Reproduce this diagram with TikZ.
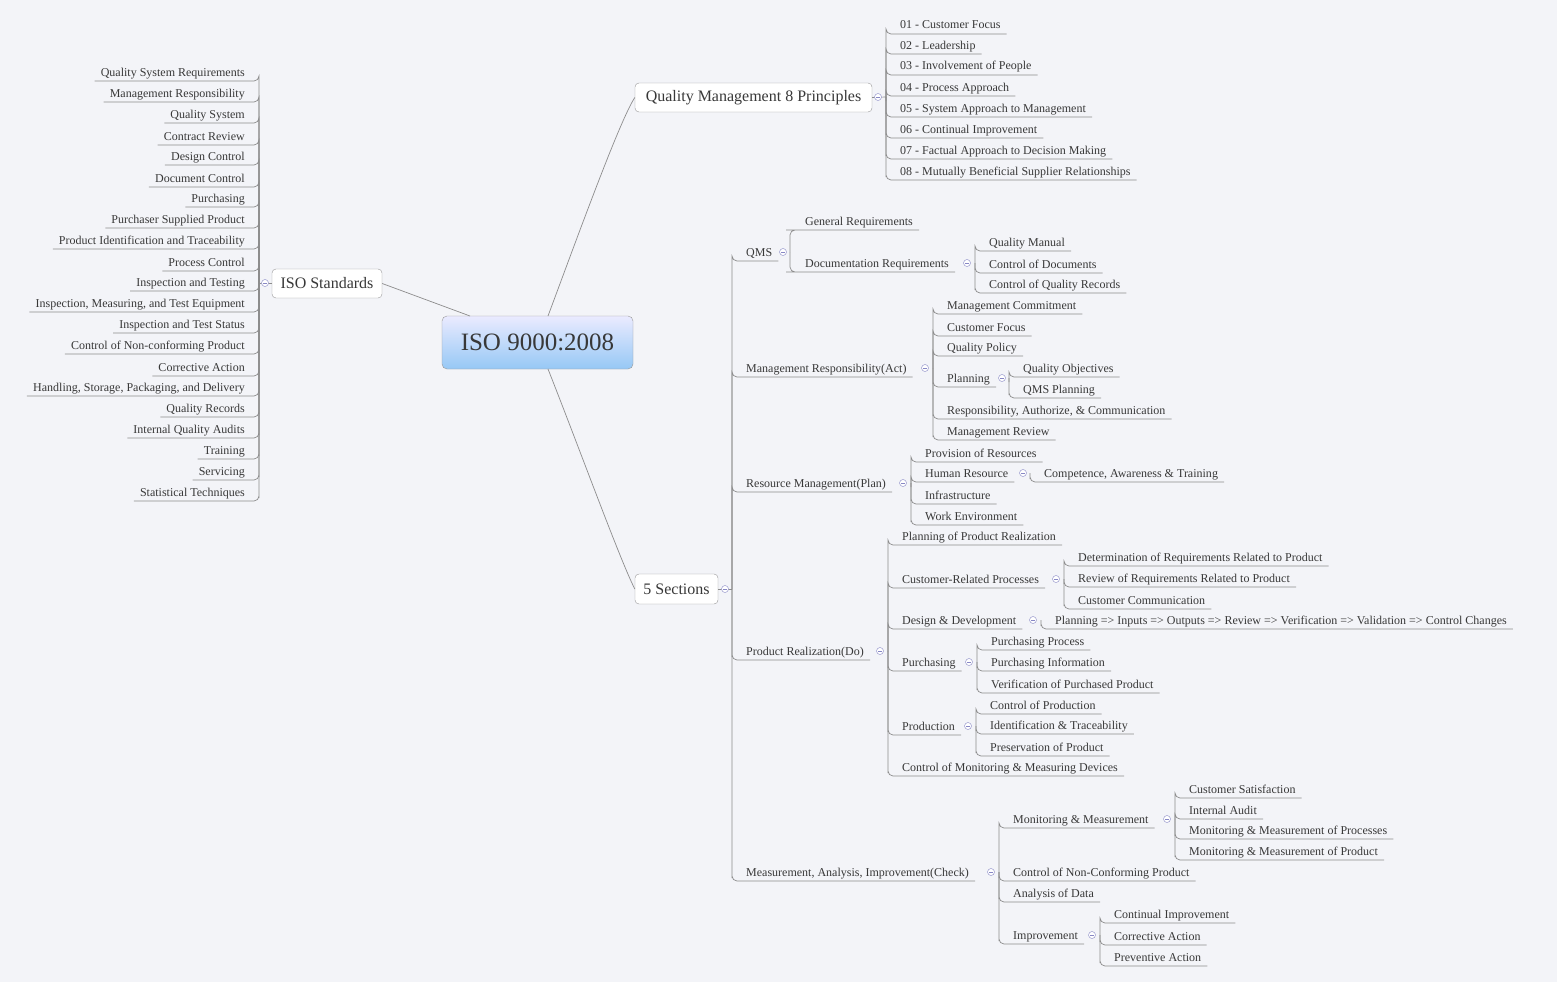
\documentclass[tikz,border=0pt]{standalone}
\usepackage{fontspec}
\setmainfont{Liberation Serif}
\begin{document}
\begin{tikzpicture}[x=1pt,y=1pt,
  leaf/.style={font=\fontsize{12}{12}\selectfont,text=black!78,inner sep=0pt,anchor=base west},
  leafl/.style={leaf,anchor=base east},
  ln/.style={draw=black!45,line width=0.7pt,rounded corners=5pt},
  tbox/.style={draw=black!40,fill=white,rounded corners=4pt,font=\fontsize{16}{16}\selectfont,text=black!78,inner sep=0pt},
  cc/.style={circle,draw=blue!35!gray!60,fill=white,minimum size=7pt,inner sep=0pt,line width=0.5pt,
     path picture={\draw[blue!35!gray!70,line width=0.5pt] ([xshift=-2pt]path picture bounding box.center)--([xshift=2pt]path picture bounding box.center);}}]
\useasboundingbox[fill={rgb,255:red,243;green,244;blue,248}] (0,0) rectangle (1557,-982);
\newcommand\R[5]{\node[leaf] (#2) at (#3,-#4-4) {#5};
  \draw[ln] (#1) |- ([xshift=-14pt,yshift=-5pt]#2.base west) -- ([xshift=6pt,yshift=-5pt]#2.base east);}
\newcommand\Lf[4]{\node[leafl] (#2) at (245,-#3-4) {#4};
  \draw[ln] (#1) |- ([xshift=14pt,yshift=-5pt]#2.base east) -- ([xshift=-6pt,yshift=-5pt]#2.base west);}
% center
\node[draw=black!40,rounded corners=5pt,top color=blue!8!white,bottom color={rgb,255:red,150;green,200;blue,245},
  minimum width=191pt,minimum height=53pt,font=\fontsize{25}{25}\selectfont,text=black!78] (c) at (537.5,-342.5) {ISO 9000:2008};
\node[tbox,minimum width=110pt,minimum height=29pt] (iso) at (327,-283.5) {ISO Standards};
\node[tbox,minimum width=237pt,minimum height=29pt] (qm) at (753.5,-97.5) {Quality Management 8 Principles};
\node[tbox,minimum width=83pt,minimum height=30pt] (fs) at (676.5,-589) {5 Sections};
\coordinate (c1) at (470,-316); \coordinate (c2) at (548,-316); \coordinate (c3) at (548,-369);
\draw[black!45,line width=0.7pt] (c1) -- (iso.east);
\draw[black!45,line width=0.7pt] (c2) .. controls (580,-230) and (620,-120) .. (qm.west);
\draw[black!45,line width=0.7pt] (c3) .. controls (580,-450) and (620,-560) .. (fs.west);
% left
\coordinate (pl) at (259,-283);
\Lf{pl}{l1}{72}{Quality System Requirements}
\Lf{pl}{l2}{93}{Management Responsibility}
\Lf{pl}{l3}{114}{Quality System}
\Lf{pl}{l4}{136}{Contract Review}
\Lf{pl}{l5}{156}{Design Control}
\Lf{pl}{l6}{178}{Document Control}
\Lf{pl}{l7}{198}{Purchasing}
\Lf{pl}{l8}{219}{Purchaser Supplied Product}
\Lf{pl}{l9}{240}{Product Identification and Traceability}
\Lf{pl}{l10}{262}{Process Control}
\Lf{pl}{l11}{282}{Inspection and Testing}
\Lf{pl}{l12}{303}{Inspection, Measuring, and Test Equipment}
\Lf{pl}{l13}{324}{Inspection and Test Status}
\Lf{pl}{l14}{345}{Control of Non-conforming Product}
\Lf{pl}{l15}{367}{Corrective Action}
\Lf{pl}{l16}{387}{Handling, Storage, Packaging, and Delivery}
\Lf{pl}{l17}{408}{Quality Records}
\Lf{pl}{l18}{429}{Internal Quality Audits}
\Lf{pl}{l19}{450}{Training}
\Lf{pl}{l20}{471}{Servicing}
\Lf{pl}{l21}{492}{Statistical Techniques}
\draw[black!45,line width=0.7pt] (iso.west) -- (259,-283.5);
\node[cc] at (265,-283) {};
% principles
\coordinate (pq) at (886,-97);
\draw[black!45,line width=0.7pt] (qm.east) -- (pq);
\R{pq}{q1}{900}{25}{01 - Customer Focus}
\R{pq}{q2}{900}{45}{02 - Leadership}
\R{pq}{q3}{900}{66}{03 - Involvement of People}
\R{pq}{q4}{900}{87}{04 - Process Approach}
\R{pq}{q5}{900}{108}{05 - System Approach to Management}
\R{pq}{q6}{900}{129}{06 - Continual Improvement}
\R{pq}{q7}{900}{150}{07 - Factual Approach to Decision Making}
\R{pq}{q8}{900}{171}{08 - Mutually Beneficial Supplier Relationships}
\node[cc] at (878,-97) {};
% 5 sections
\coordinate (pf) at (732,-589);
\draw[black!45,line width=0.7pt] (fs.east) -- (pf);
\R{pf}{s1}{746}{252}{QMS}
\R{pf}{s2}{746}{368}{Management Responsibility(Act)}
\R{pf}{s3}{746}{483}{Resource Management(Plan)}
\R{pf}{s4}{746}{651}{Product Realization(Do)}
\R{pf}{s5}{746}{872}{Measurement, Analysis, Improvement(Check)}
\node[cc] at (725,-589) {};
% QMS
\coordinate (p1) at (790,-252);
\R{p1}{a1}{805}{221}{General Requirements}
\R{p1}{a2}{805}{263}{Documentation Requirements}
\coordinate (p2) at (975,-263);
\R{p2}{b1}{989}{242}{Quality Manual}
\R{p2}{b2}{989}{264}{Control of Documents}
\R{p2}{b3}{989}{284}{Control of Quality Records}
\node[cc] at (783,-252) {}; \node[cc] at (967,-263) {};
% Mgmt resp
\coordinate (p3) at (933,-368);
\R{p3}{m1}{947}{305}{Management Commitment}
\R{p3}{m2}{947}{327}{Customer Focus}
\R{p3}{m3}{947}{347}{Quality Policy}
\R{p3}{m4}{947}{378}{Planning}
\R{p3}{m5}{947}{410}{Responsibility, Authorize, \& Communication}
\R{p3}{m6}{947}{431}{Management Review}
\coordinate (p4) at (1009,-378);
\R{p4}{n1}{1023}{368}{Quality Objectives}
\R{p4}{n2}{1023}{389}{QMS Planning}
\node[cc] at (925,-368) {}; \node[cc] at (1002,-378) {};
% resource
\coordinate (p5) at (911,-483);
\R{p5}{r1}{925}{453}{Provision of Resources}
\R{p5}{r2}{925}{473}{Human Resource}
\R{p5}{r3}{925}{495}{Infrastructure}
\R{p5}{r4}{925}{516}{Work Environment}
\coordinate (p6) at (1030,-473);
\R{p6}{h1}{1044}{473}{Competence, Awareness \& Training}
\node[cc] at (903,-483) {}; \node[cc] at (1023,-473) {};
% product realization
\coordinate (p7) at (888,-651);
\R{p7}{d1}{902}{536}{Planning of Product Realization}
\R{p7}{d2}{902}{579}{Customer-Related Processes}
\R{p7}{d3}{902}{620}{Design \& Development}
\R{p7}{d4}{902}{662}{Purchasing}
\R{p7}{d5}{902}{726}{Production}
\R{p7}{d6}{902}{767}{Control of Monitoring \& Measuring Devices}
\coordinate (p8) at (1064,-579);
\R{p8}{e1}{1078}{557}{Determination of Requirements Related to Product}
\R{p8}{e2}{1078}{578}{Review of Requirements Related to Product}
\R{p8}{e3}{1078}{600}{Customer Communication}
\coordinate (p9) at (1041,-620);
\R{p9}{f1}{1055}{620}{Planning => Inputs => Outputs => Review => Verification => Validation => Control Changes}
\coordinate (p10) at (977,-662);
\R{p10}{g1}{991}{641}{Purchasing Process}
\R{p10}{g2}{991}{662}{Purchasing Information}
\R{p10}{g3}{991}{684}{Verification of Purchased Product}
\coordinate (p11) at (976,-726);
\R{p11}{k1}{990}{705}{Control of Production}
\R{p11}{k2}{990}{725}{Identification \& Traceability}
\R{p11}{k3}{990}{747}{Preservation of Product}
\node[cc] at (880,-651) {}; \node[cc] at (1056,-579) {}; \node[cc] at (1033,-620) {};
\node[cc] at (969,-662) {}; \node[cc] at (968,-726) {};
% measurement
\coordinate (p12) at (999,-872);
\R{p12}{t1}{1013}{819}{Monitoring \& Measurement}
\R{p12}{t2}{1013}{872}{Control of Non-Conforming Product}
\R{p12}{t3}{1013}{893}{Analysis of Data}
\R{p12}{t4}{1013}{935}{Improvement}
\coordinate (p13) at (1175,-819);
\R{p13}{u1}{1189}{789}{Customer Satisfaction}
\R{p13}{u2}{1189}{810}{Internal Audit}
\R{p13}{u3}{1189}{830}{Monitoring \& Measurement of Processes}
\R{p13}{u4}{1189}{851}{Monitoring \& Measurement of Product}
\coordinate (p14) at (1100,-935);
\R{p14}{v1}{1114}{914}{Continual Improvement}
\R{p14}{v2}{1114}{936}{Corrective Action}
\R{p14}{v3}{1114}{957}{Preventive Action}
\node[cc] at (991,-872) {}; \node[cc] at (1167,-819) {}; \node[cc] at (1092,-935) {};
\end{tikzpicture}
\end{document}
